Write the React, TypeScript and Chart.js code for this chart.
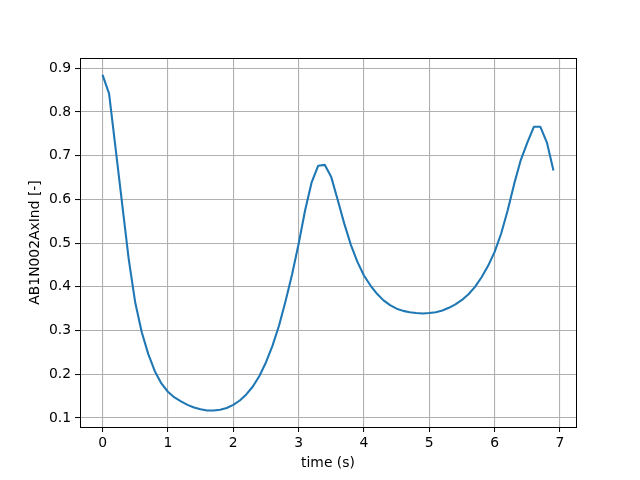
import React, { useEffect, useRef } from "react";
import { Chart, registerables } from "chart.js";

Chart.register(...registerables);

const timeValues: number[] = [
  0.0, 0.1, 0.2, 0.3, 0.4, 0.5, 0.6, 0.7, 0.8, 0.9,
  1.0, 1.1, 1.2, 1.3, 1.4, 1.5, 1.6, 1.7, 1.8, 1.9,
  2.0, 2.1, 2.2, 2.3, 2.4, 2.5, 2.6, 2.7, 2.8, 2.9,
  3.0, 3.1, 3.2, 3.3, 3.4, 3.5, 3.6, 3.7, 3.8, 3.9,
  4.0, 4.1, 4.2, 4.3, 4.4, 4.5, 4.6, 4.7, 4.8, 4.9,
  5.0, 5.1, 5.2, 5.3, 5.4, 5.5, 5.6, 5.7, 5.8, 5.9,
  6.0, 6.1, 6.2, 6.3, 6.4, 6.5, 6.6, 6.7, 6.8, 6.9,
];

const axIndValues: number[] = [
  0.885, 0.842, 0.716, 0.59, 0.464, 0.364, 0.296, 0.246, 0.207, 0.179,
  0.16, 0.147, 0.138, 0.13, 0.124, 0.12, 0.117, 0.117, 0.119, 0.123,
  0.13, 0.14, 0.154, 0.172, 0.196, 0.227, 0.265, 0.311, 0.367, 0.428,
  0.498, 0.575, 0.639, 0.677, 0.679, 0.651, 0.598, 0.544, 0.496, 0.457,
  0.426, 0.403, 0.384, 0.369, 0.358, 0.35, 0.345, 0.342, 0.34, 0.339,
  0.34, 0.342, 0.346, 0.352, 0.36, 0.37, 0.383, 0.4, 0.422, 0.448,
  0.48, 0.522, 0.575, 0.636, 0.69, 0.73, 0.766, 0.766, 0.73, 0.666,
];

const xTicks: number[] = [0, 1, 2, 3, 4, 5, 6, 7];
const yTicks: number[] = [0.1, 0.2, 0.3, 0.4, 0.5, 0.6, 0.7, 0.8, 0.9];

const xLabel = "time (s)";
const yLabel = "AB1N002AxInd [-]";

const FONT = "'DejaVu Sans', sans-serif";

const framePlugin = {
  id: "frame",
  afterDatasetsDraw(chart: any) {
    const { ctx, chartArea } = chart;
    ctx.save();
    ctx.strokeStyle = "#000000";
    ctx.lineWidth = 1;
    ctx.strokeRect(
      Math.round(chartArea.left) + 0.5,
      Math.round(chartArea.top) + 0.5,
      Math.round(chartArea.right - chartArea.left),
      Math.round(chartArea.bottom - chartArea.top)
    );
    ctx.restore();
  },
};

export default function App() {
  const canvasRef = useRef<HTMLCanvasElement | null>(null);

  useEffect(() => {
    document.body.style.margin = "0";
    const canvas = canvasRef.current;
    if (!canvas) return;

    const xMin = -0.345;
    const xMax = 7.245;
    const yMin = 0.0794;
    const yMax = 0.9234;

    const chart = new Chart(canvas, {
      type: "line",
      data: {
        datasets: [
          {
            data: timeValues.map((t, i) => ({ x: t, y: axIndValues[i] })),
            borderColor: "#1f77b4",
            borderWidth: 2.08,
            pointRadius: 0,
            fill: false,
            tension: 0,
            borderJoinStyle: "round",
            borderCapStyle: "butt",
          },
        ],
      },
      options: {
        animation: false,
        responsive: false,
        devicePixelRatio: 1,
        layout: { padding: { left: 0, right: 64, top: 58, bottom: 0 } },
        plugins: {
          legend: { display: false },
          tooltip: { enabled: false },
        },
        scales: {
          x: {
            type: "linear",
            min: xMin,
            max: xMax,
            afterBuildTicks: (scale: any) => {
              scale.ticks = xTicks.map((v) => ({ value: v }));
            },
            afterFit: (scale: any) => {
              scale.height = 53;
            },
            ticks: {
              color: "#000000",
              font: { family: FONT, size: 13.9 },
              padding: 3,
              maxRotation: 0,
              callback: (v: any) => String(v),
            },
            grid: {
              color: "#b0b0b0",
              lineWidth: 1.1,
              tickColor: "#000000",
              tickWidth: 1,
              tickLength: 5,
              drawTicks: true,
            },
            border: { display: false },
            title: {
              display: true,
              text: xLabel,
              color: "#000000",
              font: { family: FONT, size: 13.9 },
              padding: { top: 0, bottom: 8.6 },
            },
          },
          y: {
            type: "linear",
            min: yMin,
            max: yMax,
            afterBuildTicks: (scale: any) => {
              scale.ticks = yTicks.map((v) => ({ value: v }));
            },
            afterFit: (scale: any) => {
              scale.width = 80;
            },
            ticks: {
              color: "#000000",
              font: { family: FONT, size: 13.9 },
              padding: 4,
              callback: (v: any) => Number(v).toFixed(1),
            },
            grid: {
              color: "#b0b0b0",
              lineWidth: 1.1,
              tickColor: "#000000",
              tickWidth: 1,
              tickLength: 5,
              drawTicks: true,
            },
            border: { display: false },
            title: {
              display: true,
              text: yLabel,
              color: "#000000",
              font: { family: FONT, size: 13.9 },
              padding: { top: 26.6, bottom: 0 },
            },
          },
        },
      },
      plugins: [framePlugin],
    });

    return () => {
      chart.destroy();
    };
  }, []);

  return (
    <div style={{ width: 640, height: 480, background: "#ffffff" }}>
      <canvas ref={canvasRef} width={640} height={480} style={{ display: "block", width: 640, height: 480 }} />
    </div>
  );
}
